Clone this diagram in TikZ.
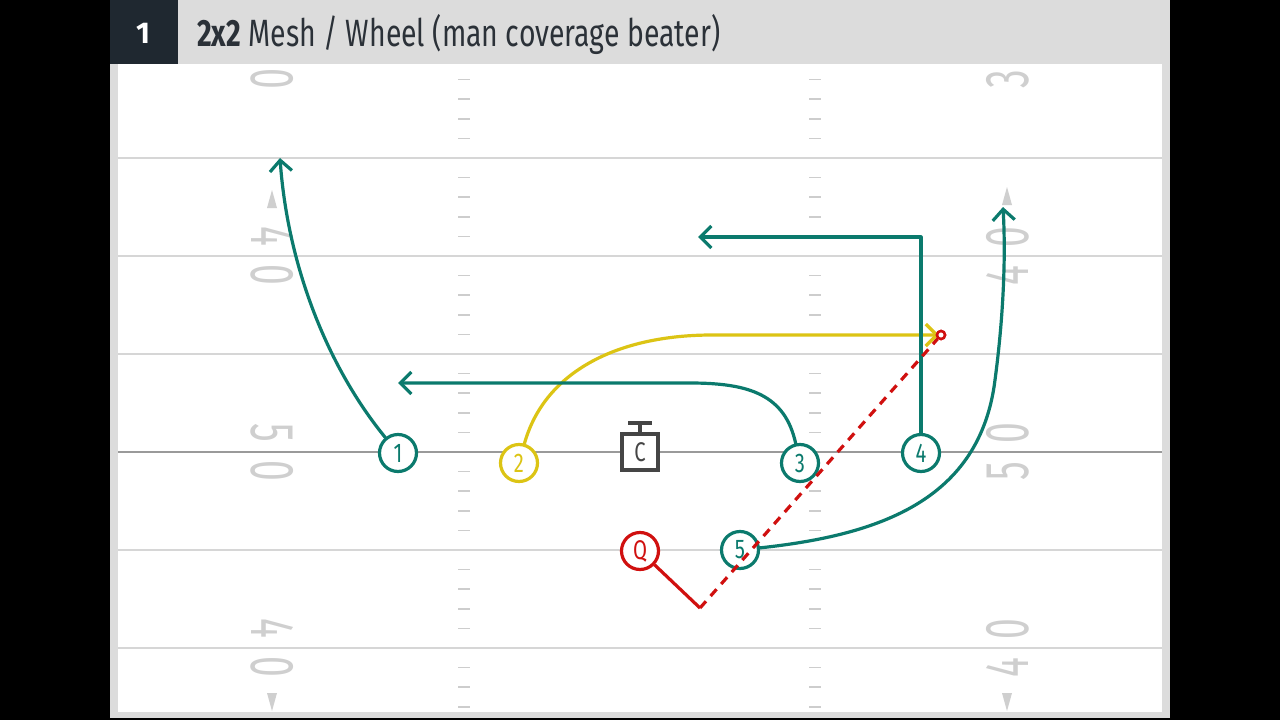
\documentclass[tikz,border=0pt]{standalone}
\usepackage{fontspec}
\usepackage{graphicx}
\setmainfont{Fira Sans}
\usetikzlibrary{arrows.meta}
\definecolor{pteal}{HTML}{0B7A6D}
\definecolor{pyellow}{HTML}{DCC414}
\definecolor{pred}{HTML}{D0100F}
\definecolor{framegray}{HTML}{DCDCDC}
\definecolor{headgray}{HTML}{DCDCDC}
\definecolor{darkbox}{HTML}{1F2830}
\definecolor{titletext}{HTML}{2B3138}
\definecolor{yardgray}{HTML}{D6D6D6}
\definecolor{hashgray}{HTML}{CDCDCD}
\definecolor{losgray}{HTML}{9A9A9A}
\definecolor{numgray}{HTML}{CFCFCF}
\definecolor{cgray}{HTML}{454545}
\newcommand\ydnum[2]{\scalebox{0.6}[1]{#1}\hspace{18.5pt}\scalebox{0.6}[1]{#2}}
\newcommand\plab[1]{\scalebox{0.75}[1]{#1}}
\begin{document}
\begin{tikzpicture}[x=1pt,y=-1pt,
  yardline/.style={draw=yardgray,line width=1.5pt},
  losline/.style={draw=losgray,line width=1.5pt},
  hashmark/.style={draw=hashgray,line width=1.5pt},
  yardnum/.style={text=numgray,inner sep=0pt,font=\fontsize{62}{62}\selectfont},
  yardtri/.style={fill=numgray},
  player/.style={circle,draw,fill=white,line width=3.2pt,minimum size=37pt,inner sep=0pt,font=\fontsize{27}{27}\selectfont},
  route/.style={line width=3.2pt,line cap=round,line join=round},
  tip/.style={-{Straight Barb[length=11pt,width=22pt,line width=3.2pt]}},
  qline/.style={draw=pred,line width=3.2pt},
  qdash/.style={draw=pred,line width=3.2pt,dash pattern=on 9pt off 7pt},
]
\useasboundingbox (0,0) rectangle (1280,720);
\fill[black] (0,0) rectangle (1280,720);
\fill[framegray] (110,0) rectangle (1170,718);
\fill[white] (118,64) rectangle (1162,712);
% yard lines
\foreach \yy in {158,256,354,550,648} \draw[yardline] (118,\yy) -- (1162,\yy);
\draw[losline] (118,452) -- (1162,452);
% hash marks
\foreach \yy in {60,158,256,354,452,550,648}
  \foreach \k in {1,...,4} {
    \draw[hashmark] (458,{\yy+\k*19.6}) -- (470,{\yy+\k*19.6});
    \draw[hashmark] (809,{\yy+\k*19.6}) -- (821,{\yy+\k*19.6});
  }
% yard numbers left (read top to bottom)
\node[yardnum,rotate=-90] (l30) at (272,60) {\ydnum{3}{0}};
\node[yardnum,rotate=-90] (l40a) at (272,256) {\ydnum{4}{0}};
\node[yardnum,rotate=-90] (l50) at (272,452) {\ydnum{5}{0}};
\node[yardnum,rotate=-90] (l40b) at (272,648) {\ydnum{4}{0}};
% yard numbers right (read bottom to top)
\node[yardnum,rotate=90] (r30) at (1008,60) {\ydnum{3}{0}};
\node[yardnum,rotate=90] (r40a) at (1008,256) {\ydnum{4}{0}};
\node[yardnum,rotate=90] (r50) at (1008,452) {\ydnum{5}{0}};
\node[yardnum,rotate=90] (r40b) at (1008,648) {\ydnum{4}{0}};
% direction triangles
\fill[yardtri] (272,190) -- (267,208) -- (277,208) -- cycle;
\fill[yardtri] (272,711) -- (267,693) -- (277,693) -- cycle;
\fill[yardtri] (1007,187) -- (1002,205) -- (1012,205) -- cycle;
\fill[yardtri] (1007,711) -- (1002,693) -- (1012,693) -- cycle;
% header
\fill[headgray] (110,0) rectangle (1170,64);
\fill[darkbox] (110,0) rectangle (178,64);
\node[text=white,font=\fontsize{30}{30}\selectfont\bfseries] (num) at (143,33) {1};
\node[anchor=base west,inner sep=0pt,text=titletext,font=\fontsize{38}{38}\selectfont] (title) at (197,46)
  {\resizebox{523pt}{\height}{\textbf{2x2} Mesh / Wheel (man coverage beater)}};
% players
\node[player,draw=pteal,text=pteal] (p1) at (398,453) {\plab{1}};
\node[player,draw=pyellow,text=pyellow] (p2) at (519,463) {\plab{2}};
\node[player,draw=pteal,text=pteal] (p3) at (800,463) {\plab{3}};
\node[player,draw=pteal,text=pteal] (p4) at (921,453) {\plab{4}};
\node[player,draw=pteal,text=pteal] (p5) at (740,550) {\plab{5}};
\node[player,draw=pred,text=pred] (q) at (640,551) {\plab{Q}};
\node[rectangle,draw=cgray,text=cgray,fill=white,line width=3.2pt,minimum width=36pt,minimum height=36pt,inner sep=0pt,font=\fontsize{27}{27}\selectfont] (c) at (640,452) {\plab{C}};
\coordinate (ctop) at (640,423);
\draw[draw=cgray,line width=3.2pt] (c.north) -- (ctop);
\draw[draw=cgray,line width=3.2pt] ([xshift=-12pt]ctop) -- ([xshift=12pt]ctop);
% route end points
\coordinate (e1) at (280,158);
\coordinate (m2) at (712,335);
\coordinate (e2) at (939,335);
\coordinate (m3) at (690,383);
\coordinate (e3) at (398,383);
\coordinate (k4) at (921,237);
\coordinate (e4) at (698,237);
\coordinate (m5) at (995,380);
\coordinate (e5) at (1003,207);
\coordinate (qc) at (700,608);
% routes
\draw[route,pteal,tip] (p1) .. controls (330,370) and (288,270) .. (e1);
\draw[route,pyellow,tip] (p2) .. controls (545,370) and (620,335) .. (m2) -- (e2);
\draw[route,pteal,tip] (p3) .. controls (785,395) and (750,383) .. (m3) -- (e3);
\draw[route,pteal,tip] (p4) -- (k4) -- (e4);
\draw[route,pteal,tip] (p5) .. controls (880,535) and (980,500) .. (m5) .. controls (1003,320) and (1006,260) .. (e5);
% QB path
\node[circle,draw=pred,fill=white,line width=2.5pt,minimum size=8pt,inner sep=0pt] (tgt) at (941,335) {};
\draw[qline] (q) -- (qc);
\draw[qdash] (qc) -- (tgt);
\node[circle,draw=pred,fill=white,line width=2.5pt,minimum size=8pt,inner sep=0pt] at (tgt) {};
\end{tikzpicture}
\end{document}
